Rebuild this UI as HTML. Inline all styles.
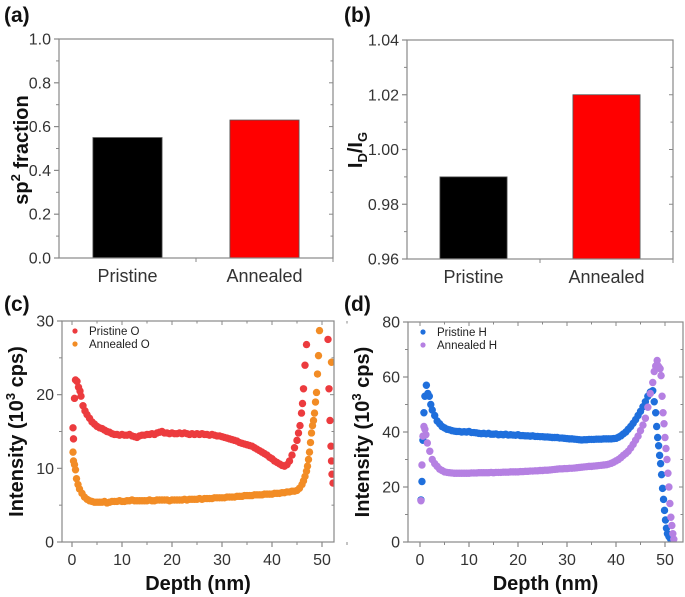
<!DOCTYPE html>
<html><head><meta charset="utf-8"><style>
body{margin:0;background:#fff;width:685px;height:597px;overflow:hidden}
svg{display:block;font-family:"Liberation Sans",sans-serif}
.tick{font-size:16px;fill:#333}
.title{font-size:20px;font-weight:bold;fill:#111}
.plabel{font-size:21px;font-weight:bold;fill:#111}
.leg{font-size:11.5px;fill:#222}
</style></head><body>
<svg id="fig" width="685" height="597" viewBox="0 0 685 597"></svg>
<script>
// ---- Data ----
const barCategories=["Pristine","Annealed"];
const sp2Values=[0.55,0.63];
const idigValues=[0.99,1.02];
const sp2Ticks=["0.0","0.2","0.4","0.6","0.8","1.0"];
const idigTicks=["0.96","0.98","1.00","1.02","1.04"];
const depthTicks=["0","10","20","30","40","50"];
const oTicks=["0","10","20","30"];
const hTicks=["0","20","40","60","80"];

const pristineO_x=[0.2,0.3,0.5,0.7,1.0,1.3,1.6,1.8,2.2,2.6,3,3.5,4,4.5,5,5.5,6,6.5,7,7.5,8,8.5,9,9.5,10,10.5,11,11.5,12,12.5,13,13.5,14,14.5,15,15.5,16,16.5,17,17.5,18,18.5,19,19.5,20,20.5,21,21.5,22,22.5,23,23.5,24,24.5,25,25.5,26,26.5,27,27.5,28,28.5,29,29.5,30,30.5,31,31.5,32,32.5,33,33.5,34,34.5,35,35.5,36,36.5,37,37.5,38,38.5,39,39.5,40,40.5,41,41.5,42,42.5,43,43.5,44,44.5,45,45.3,45.6,45.9,46.1,46.3,46.6,46.9,51.2,51.4,51.6,51.8,51.9,52.0,52.2];
const pristineO_y=[15.5,14,19.5,22,21.8,21,20.5,19.8,18.5,17.8,17.3,16.8,16.3,16,15.7,15.5,15.4,15.2,15,14.9,14.7,14.6,14.6,14.5,14.6,14.5,14.5,14.6,14.4,14.3,14.2,14.4,14.5,14.5,14.6,14.6,14.7,14.6,14.8,14.9,15,14.8,14.8,14.7,14.8,14.7,14.7,14.8,14.7,14.8,14.7,14.6,14.7,14.6,14.7,14.6,14.7,14.6,14.6,14.5,14.6,14.5,14.4,14.4,14.3,14.2,14.1,14,13.9,13.8,13.7,13.5,13.4,13.3,13.2,13.1,13,12.8,12.6,12.4,12.2,12,11.8,11.5,11.3,11,10.8,10.6,10.4,10.3,10.5,11,11.8,12.8,13.8,14.8,15.8,17.5,18.8,20.8,24,26.8,27.5,20.8,16.5,13,11,9.2,8];

const annealedO_x=[0.2,0.3,0.5,0.7,0.9,1.2,1.5,2,2.5,3,3.5,4,4.5,5,5.5,6,6.5,7,7.5,8,8.5,9,9.5,10,10.5,11,11.5,12,12.5,13,13.5,14,14.5,15,15.5,16,16.5,17,17.5,18,18.5,19,19.5,20,20.5,21,21.5,22,22.5,23,23.5,24,24.5,25,25.5,26,26.5,27,27.5,28,28.5,29,29.5,30,30.5,31,31.5,32,32.5,33,33.5,34,34.5,35,35.5,36,36.5,37,37.5,38,38.5,39,39.5,40,40.5,41,41.5,42,42.5,43,43.5,44,44.5,45,45.5,46,46.3,46.6,46.9,47.1,47.3,47.5,47.7,47.9,48.1,48.3,48.5,48.7,48.9,49.1,49.3,49.5,51.9];
const annealedO_y=[12.2,11,10.5,9.8,8.6,7.8,7.2,6.6,6.1,5.8,5.6,5.5,5.4,5.4,5.4,5.4,5.5,5.3,5.4,5.5,5.5,5.5,5.6,5.5,5.5,5.6,5.6,5.7,5.6,5.6,5.6,5.6,5.6,5.6,5.7,5.6,5.6,5.7,5.7,5.7,5.7,5.7,5.6,5.7,5.7,5.7,5.7,5.7,5.8,5.7,5.8,5.8,5.8,5.8,5.9,5.8,5.9,5.9,5.9,5.9,6,6,6,6,6,6.1,6.1,6.1,6.1,6.2,6.2,6.2,6.3,6.3,6.3,6.3,6.4,6.4,6.4,6.4,6.5,6.5,6.5,6.5,6.6,6.6,6.6,6.7,6.7,6.8,6.8,6.9,6.9,7.0,7.3,7.8,8.3,8.9,9.6,10.3,11.2,12.2,13.5,14.8,15.8,16.5,17.5,19,20.3,22.8,25.3,28.7,24.4];

const pristineH_x=[0.2,0.4,0.6,0.8,1.0,1.3,1.6,1.9,2.2,2.5,3,3.5,4,4.5,5,5.5,6,6.5,7,7.5,8,8.5,9,9.5,10,10.5,11,11.5,12,12.5,13,13.5,14,14.5,15,15.5,16,16.5,17,17.5,18,18.5,19,19.5,20,20.5,21,21.5,22,22.5,23,23.5,24,24.5,25,25.5,26,26.5,27,27.5,28,28.5,29,29.5,30,30.5,31,31.5,32,32.5,33,33.5,34,34.5,35,35.5,36,36.5,37,37.5,38,38.5,39,39.5,40,40.5,41,41.5,42,42.5,43,43.5,44,44.5,45,45.5,46,46.5,47,47.5,47.8,48.1,48.3,48.5,48.7,48.9,49.1,49.3,49.5,49.7,49.9,50.1,50.3,50.5,50.8,51.1,51.5];
const pristineH_y=[15.3,22,37,47,53,57,54,53,50,48,46,44,43,42,41.5,41,40.8,40.5,40.3,40.2,40.2,40,40.1,40,40.2,39.8,39.8,39.7,39.5,39.4,39.5,39.3,39.5,39.2,39.2,39.3,39,39.1,39,39.2,38.9,39,38.9,38.8,39,38.7,38.7,38.6,38.6,38.5,38.6,38.4,38.4,38.3,38.3,38.2,38.2,38.1,38,38,38,37.8,37.8,37.7,37.6,37.5,37.5,37.4,37.3,37.2,37.1,37.2,37.2,37.3,37.3,37.3,37.4,37.4,37.4,37.5,37.5,37.5,37.5,37.6,37.7,38.1,38.6,39.3,40,41,42,43.2,44.5,46,47.5,49.2,51,53,54.5,55,51,47,42,38,35,31.5,28.5,24.5,19.5,15.5,11.5,8,5,3,2,1.2,0.8];

const annealedH_x=[0.2,0.4,0.6,0.8,1.0,1.2,1.5,2,2.5,3,3.5,4,4.5,5,5.5,6,6.5,7,7.5,8,8.5,9,9.5,10,10.5,11,11.5,12,12.5,13,13.5,14,14.5,15,15.5,16,16.5,17,17.5,18,18.5,19,19.5,20,20.5,21,21.5,22,22.5,23,23.5,24,24.5,25,25.5,26,26.5,27,27.5,28,28.5,29,29.5,30,30.5,31,31.5,32,32.5,33,33.5,34,34.5,35,35.5,36,36.5,37,37.5,38,38.5,39,39.5,40,40.5,41,41.5,42,42.5,43,43.5,44,44.5,45,45.5,46,46.5,47,47.5,47.8,48.1,48.4,48.6,48.8,49.0,49.2,49.4,49.6,49.8,50.0,50.2,50.4,50.6,50.8,51.0,51.2,51.4,51.6,51.8,52.0];
const annealedH_y=[15,28,38.5,42,41,39,36,33,30,28.5,27.5,26.5,26,25.5,25.3,25.2,25.1,25,25,25,25,25,25,25,25.1,25.1,25.1,25.2,25.2,25.2,25.2,25.2,25.3,25.2,25.3,25.3,25.3,25.4,25.4,25.4,25.5,25.5,25.5,25.5,25.6,25.6,25.7,25.7,25.8,25.8,25.9,25.9,26,26,26.1,26.1,26.2,26.3,26.4,26.5,26.6,26.6,26.7,26.7,26.8,26.8,26.9,27,27.1,27.2,27.3,27.4,27.5,27.5,27.6,27.7,27.8,27.9,28,28.1,28.3,28.6,29,29.5,30,30.7,31.5,32.2,33,34.2,35.5,37,38.5,40.5,42.5,45,49,54,58,62,64,66,64,63.5,63,60.5,53,47,43,38,34,30,25,20,14,9,6,3,1];

// ---- Helpers ----
const svg=document.getElementById('fig');
const NS='http://www.w3.org/2000/svg';
function mk(tag,attrs,parent,text){const e=document.createElementNS(NS,tag);for(const k in attrs)e.setAttribute(k,attrs[k]);if(text!==undefined)e.textContent=text;(parent||svg).appendChild(e);return e;}
function lin(d0,d1,r0,r1){return v=>r0+(v-d0)*(r1-r0)/(d1-d0);}

function frame(g,L,T,R,B){
  const f=mk('rect',{x:L,y:T,width:R-L,height:B-T,fill:'none',stroke:'#888','stroke-width':1.2},g);
  
  
}
function yAxis(g,L,R,ticks,ys){
  for(let i=0;i<ticks.length;i++){
    const v=parseFloat(ticks[i]),y=ys(v);
    mk('line',{x1:L-5,x2:L,y1:y,y2:y,stroke:'#888','stroke-width':1.2},g);
    mk('line',{x1:R,x2:R-4,y1:y,y2:y,stroke:'#888','stroke-width':1},g);
    const t=mk('text',{x:L-8,y:y+5.5,'text-anchor':'end',class:'tick'},g,ticks[i]);
    
    
    if(i<ticks.length-1){
      const v2=parseFloat(ticks[i+1]);
      const m=ys((v+v2)/2);
      mk('line',{x1:L-3,x2:L,y1:m,y2:m,stroke:'#888','stroke-width':1},g);
      mk('line',{x1:R,x2:R-2.5,y1:m,y2:m,stroke:'#888','stroke-width':1},g);
    }
  }
}
function xAxisNum(g,T,B,ticks,xs){
  for(let i=0;i<ticks.length;i++){
    const v=parseFloat(ticks[i]),x=xs(v);
    mk('line',{x1:x,x2:x,y1:B,y2:B+5,stroke:'#888','stroke-width':1.2},g);
    mk('line',{x1:x,x2:x,y1:T,y2:T+4,stroke:'#888','stroke-width':1},g);
    const t=mk('text',{x:x,y:B+23,'text-anchor':'middle',class:'tick'},g,ticks[i]);
    
    
    const m=xs(v+5);
    mk('line',{x1:m,x2:m,y1:B,y2:B+3,stroke:'#888','stroke-width':1},g);
    mk('line',{x1:m,x2:m,y1:T,y2:T+2.5,stroke:'#888','stroke-width':1},g);
  }
}
function plabel(x,y,s){const t=mk('text',{x:x,y:y,class:'plabel'},svg,s);
  
  }

// ---- Bar panels ----
function barPanel(name,L,T,R,B,d0,d1,ticks,values,colors,yTitleFn){
  const g=mk('g',{});
  
  
  const ys=lin(d0,d1,B,T);
  const band=(R-L)/2;
  const bw=band*0.505;
  for(let i=0;i<values.length;i++){
    const cx=L+band*(i+0.5);
    const r=mk('rect',{x:cx-bw/2,y:ys(values[i]),width:bw,height:B-ys(values[i]),fill:colors[i],stroke:'#555','stroke-width':0.8},g);
    
    
    const t=mk('text',{x:cx,y:B+24,'text-anchor':'middle',class:'tick',style:'font-size:18px'},g,barCategories[i]);
    
    
    mk('line',{x1:L+band*(i+1),x2:L+band*(i+1),y1:B,y2:B+4,stroke:'#888'},g);
  }
  frame(g,L,T,R,B);
  yAxis(g,L,R,ticks,ys);
  yTitleFn(g);
}
plabel(4,22,'(a)');
barPanel('sp2-bar-chart',59,39,333,258,0,1,sp2Ticks,sp2Values,['#000','#ff0000'],g=>{
  const t=mk('text',{transform:'translate(28,150) rotate(-90)','text-anchor':'middle',class:'title'},g);
  
  
  mk('tspan',{},t,'sp');mk('tspan',{dy:-8,style:'font-size:13px'},t,'2');mk('tspan',{dy:8},t,' fraction');
});
plabel(344,22,'(b)');
barPanel('id-ig-bar-chart',407,40,673,259,0.96,1.04,idigTicks,idigValues,['#000','#ff0000'],g=>{
  const t=mk('text',{transform:'translate(362,150) rotate(-90)','text-anchor':'middle',class:'title'},g);
  
  
  mk('tspan',{},t,'I');mk('tspan',{dy:5,style:'font-size:13px'},t,'D');mk('tspan',{dy:-5},t,'/I');mk('tspan',{dy:5,style:'font-size:13px'},t,'G');
});

// ---- Scatter panels ----
function scatterPanel(name,L,T,R,B,xs,ys,yTicks,series,legendX){
  const g=mk('g',{});
  
  
  const clipId=name+'-clip';
  const cp=mk('clipPath',{id:clipId},g);mk('rect',{x:L,y:T,width:R-L,height:B-T},cp);
  const pg=mk('g',{'clip-path':'url(#'+clipId+')'},g);
  series.forEach(s=>{
    const sg=mk('g',{fill:s.color},pg);
    
    
    for(let i=0;i<s.x.length;i++){
      const c=mk('circle',{cx:xs(s.x[i]),cy:ys(s.y[i]),r:3.7},sg);
      
      
    }
  });
  frame(g,L,T,R,B);
  yAxis(g,L,R,yTicks,ys);
  xAxisNum(g,T,B,depthTicks,xs);
  series.forEach((s,i)=>{
    const le=mk('g',{},g);
    
    
    mk('circle',{cx:legendX,cy:T+10+i*13,r:2.6,fill:s.color},le);
    mk('text',{x:legendX+14,y:T+14+i*13,class:'leg'},le,s.label);
  });
  const xt=mk('text',{x:(L+R)/2,y:590,'text-anchor':'middle',class:'title'},g,'Depth (nm)');
  
  
  const yt=mk('text',{transform:'translate('+(L-39)+','+((T+B)/2)+') rotate(-90)','text-anchor':'middle',class:'title'},g);
  
  
  mk('tspan',{},yt,'Intensity (10');mk('tspan',{dy:-8,style:'font-size:13px'},yt,'3');mk('tspan',{dy:8},yt,' cps)');
}
plabel(4,311,'(c)');
scatterPanel('oxygen-depth-profile',62,321,334,542,lin(0,50,72,322),lin(0,30,542,321),oTicks,[
  {key:'pristine-o',label:'Pristine O',color:'#ec3b3e',x:pristineO_x,y:pristineO_y},
  {key:'annealed-o',label:'Annealed O',color:'#f28c25',x:annealedO_x,y:annealedO_y}],75);
plabel(344,311,'(d)');
scatterPanel('hydrogen-depth-profile',408,322,683,542,lin(0,50,420,665),lin(0,80,542,322),hTicks,[
  {key:'pristine-h',label:'Pristine H',color:'#1f6fdc',x:pristineH_x,y:pristineH_y},
  {key:'annealed-h',label:'Annealed H',color:'#b580e2',x:annealedH_x,y:annealedH_y}],423);
</script>
</body></html>
